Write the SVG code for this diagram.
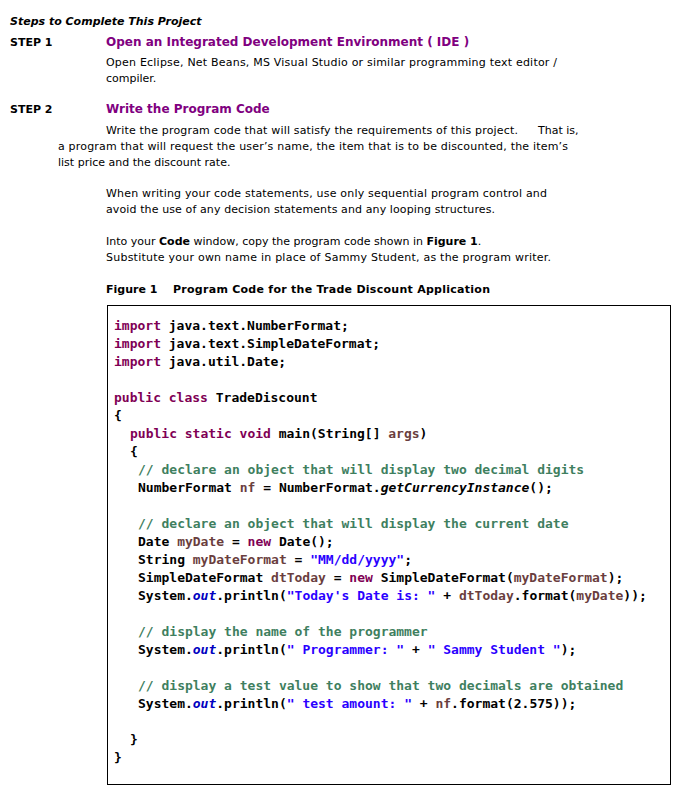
<svg xmlns="http://www.w3.org/2000/svg" width="690" height="791" viewBox="0 0 690 791">
<style>
.t{font-family:"DejaVu Sans",sans-serif;font-size:11px;fill:#000}
.b{font-weight:bold}
.h{font-family:"DejaVu Sans",sans-serif;font-size:12px;font-weight:bold;fill:#800080}
.c{font-family:"DejaVu Sans Mono",monospace;font-size:13px;font-weight:bold;fill:#000;white-space:pre}
.k{fill:#7f0055}.m{fill:#3f7f5f}.s{fill:#2a00ff}.v{fill:#6a3e3e}.i{font-style:italic}.o{fill:#0000c0;font-style:italic}
</style>
<rect width="690" height="791" fill="#fff"/>
<text x="10" y="25" class="t b" font-style="italic" font-family="Liberation Sans,sans-serif" font-size="12.5">Steps to Complete This Project</text>
<text x="10" y="46" class="t b">STEP 1</text>
<text x="106" y="46" class="h">Open an Integrated Development Environment ( IDE )</text>
<text x="106" y="66" class="t" textLength="451">Open Eclipse, Net Beans, MS Visual Studio or similar programming text editor /</text>
<text x="106" y="82" class="t">compiler.</text>
<text x="10" y="113" class="t b">STEP 2</text>
<text x="106" y="113" class="h">Write the Program Code</text>
<text x="106" y="134" class="t" textLength="412">Write the program code that will satisfy the requirements of this project.</text>
<text x="538" y="134" class="t">That is,</text>
<text x="58" y="150" class="t" textLength="510">a program that will request the user’s name, the item that is to be discounted, the item’s</text>
<text x="58" y="166" class="t">list price and the discount rate.</text>
<text x="106" y="197" class="t" textLength="441">When writing your code statements, use only sequential program control and</text>
<text x="106" y="213" class="t" textLength="389">avoid the use of any decision statements and any looping structures.</text>
<text x="106" y="245" class="t">Into your <tspan class="b">Code</tspan> window, copy the program code shown in <tspan class="b">Figure 1</tspan>.</text>
<text x="106" y="261" class="t" textLength="445">Substitute your own name in place of Sammy Student, as the program writer.</text>
<text x="106" y="293" class="t b">Figure 1</text>
<text x="173" y="293" class="t b" textLength="317">Program Code for the Trade Discount Application</text>
<rect x="107.5" y="305.5" width="563" height="479" fill="none" stroke="#000" stroke-width="1"/>
<g class="c">
<text x="114" y="330"><tspan class="k">import</tspan> java.text.NumberFormat;</text>
<text x="114" y="348"><tspan class="k">import</tspan> java.text.SimpleDateFormat;</text>
<text x="114" y="366"><tspan class="k">import</tspan> java.util.Date;</text>
<text x="114" y="402"><tspan class="k">public class</tspan> TradeDiscount</text>
<text x="114" y="420">{</text>
<text x="130" y="438"><tspan class="k">public static void</tspan> main(String[] <tspan class="v">args</tspan>)</text>
<text x="130" y="456">{</text>
<text x="138" y="474" class="m">// declare an object that will display two decimal digits</text>
<text x="138" y="492">NumberFormat <tspan class="v">nf</tspan> = NumberFormat.<tspan class="i">getCurrencyInstance</tspan>();</text>
<text x="138" y="528" class="m">// declare an object that will display the current date</text>
<text x="138" y="546">Date <tspan class="v">myDate</tspan> = <tspan class="k">new</tspan> Date();</text>
<text x="138" y="564">String <tspan class="v">myDateFormat</tspan> = <tspan class="s">"MM/dd/yyyy"</tspan>;</text>
<text x="138" y="582">SimpleDateFormat <tspan class="v">dtToday</tspan> = <tspan class="k">new</tspan> SimpleDateFormat(<tspan class="v">myDateFormat</tspan>);</text>
<text x="138" y="600">System.<tspan class="o">out</tspan>.println(<tspan class="s">"Today's Date is: "</tspan> + <tspan class="v">dtToday</tspan>.format(<tspan class="v">myDate</tspan>));</text>
<text x="138" y="636" class="m">// display the name of the programmer</text>
<text x="138" y="654">System.<tspan class="o">out</tspan>.println(<tspan class="s">" Programmer: "</tspan> + <tspan class="s">" Sammy Student "</tspan>);</text>
<text x="138" y="690" class="m">// display a test value to show that two decimals are obtained</text>
<text x="138" y="708">System.<tspan class="o">out</tspan>.println(<tspan class="s">" test amount: "</tspan> + <tspan class="v">nf</tspan>.format(2.575));</text>
<text x="130" y="744">}</text>
<text x="114" y="762">}</text>
</g>
</svg>
